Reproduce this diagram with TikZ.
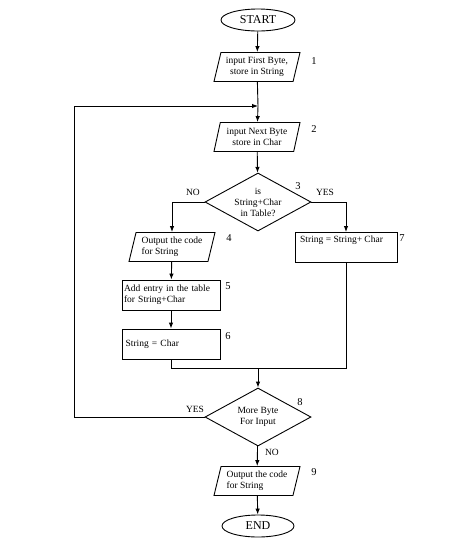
\documentclass[tikz,border=0pt]{standalone}
\usepackage{fontspec}
\setmainfont{Liberation Serif}
\usetikzlibrary{shapes.geometric,arrows.meta}
\begin{document}
\begin{tikzpicture}[x=1pt,y=-1pt,
  every node/.style={font=\fontsize{9.5}{11}\selectfont},
  base/.style={draw,line width=0.9pt,inner sep=1pt},
  term/.style={base,ellipse,minimum width=74,minimum height=22,font=\fontsize{12}{13}\selectfont},
  io/.style={base,trapezium,trapezium left angle=72,trapezium right angle=108,trapezium stretches body,minimum width=86,minimum height=29,align=left},
  proc/.style={base,rectangle,minimum width=98,minimum height=30,align=left,text width=94},
  dec/.style={base,diamond,aspect=1.8,minimum width=106,minimum height=58,align=center,inner sep=0pt},
  num/.style={font=\fontsize{10.5}{11}\selectfont},
  lab/.style={font=\fontsize{9.5}{10}\selectfont},
  line/.style={line width=0.9pt},
  arr/.style={line,-{Latex[length=6pt,width=4.5pt]}}]
\useasboundingbox (0,0) rectangle (474,539);
\node[term] (start) at (258,20) {START};
\node[io,align=center] (n1) at (257,67) {input First Byte,\\store in String};
\node[io,align=center] (n2) at (257,137) {input Next Byte\\store in Char};
\node[dec] (n3) at (258,202) {is\\String+Char\\in Table?};
\node[io] (n4) at (172,247) {Output the code\\for String};
\node[base,rectangle,minimum width=102,minimum height=30,anchor=north] (n7) at (346,232) {};
\node[anchor=north west,inner sep=1pt] (t7) at (299,235) {String = String+ Char};
\node[proc] (n5) at (171,295) {Add entry in the table\\for String+Char};
\node[proc] (n6) at (171,344) {\,String = Char};
\node[dec] (n8) at (258,417) {More Byte\\For Input};
\node[io] (n9) at (257,481) {Output the code\\for String};
\node[term,minimum width=72] (end) at (258,526) {END};
\node[num] (l1) at (314,61) {1};
\node[num] (l2) at (314,129) {2};
\node[num] (l3) at (298,186) {3};
\node[num] (l4) at (229,238) {4};
\node[num] (l5) at (228,286) {5};
\node[num] (l6) at (228,336) {6};
\node[num] (l7) at (402,238) {7};
\node[num] (l8) at (300,402) {8};
\node[num] (l9) at (314,472) {9};
\node[lab] at (193,192) {NO};
\node[lab] at (325,192) {YES};
\node[lab] at (195,409) {YES};
\node[lab] at (272,452) {NO};
\coordinate (j1) at (258,106);
\coordinate (m) at (258,368);
\coordinate (lb) at (74,417);
\coordinate (lt) at (74,106);
\draw[arr] (start) -- (n1);
\draw[line] (n1) -- (j1);
\draw[arr] (j1) -- (n2);
\draw[arr] (n2) -- (n3);
\draw[arr] (n3.west) -| (n4.north);
\draw[arr] (n3.east) -| (n7.north);
\draw[arr] (n4) -- (n5);
\draw[arr] (n5) -- (n6);
\draw[line] (n6.south) |- (m);
\draw[line] (n7.south) |- (m);
\draw[arr] (m) -- (n8.north);
\draw[line] (n8.west) -- (lb) -- (lt);
\draw[arr] (lt) -- (j1);
\draw[arr] (n8) -- (n9);
\draw[arr] (n9) -- (end);
\end{tikzpicture}
\end{document}
